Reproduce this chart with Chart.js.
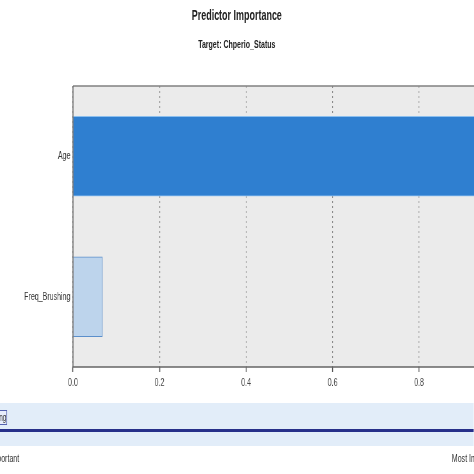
<!DOCTYPE html>
<html>
<head>
<meta charset="utf-8">
<script src="https://cdn.jsdelivr.net/npm/chart.js@4"></script>
<style>
  html, body { margin: 0; padding: 0; background: #fff; overflow: hidden; width: 474px; height: 474px; }
  /* the source picture is squeezed sideways, so the whole page is drawn wide and scaled down */
  #wrap { position: absolute; left: 0; top: 0; width: 740px; height: 474px; transform: scaleX(0.64); transform-origin: 0 0;
          font-family: "Liberation Sans", Arial, sans-serif; color: #333; }
  #title { position: absolute; left: 0; width: 740px; top: 7px; text-align: center; font-size: 14px; font-weight: bold; color: #222; }
  #subtitle { position: absolute; left: 0; width: 740px; top: 38px; text-align: center; font-size: 11px; font-weight: bold; color: #222; }
  #chartBox { position: absolute; left: 0; top: 0; width: 820px; height: 400px; }
  #band { position: absolute; left: 0; top: 403px; width: 740px; height: 43px; background: #e2edf9; }
  #track { position: absolute; left: 0; top: 429px; width: 740px; height: 3px; background: #27308a; }
  #handle { position: absolute; left: -22px; top: 410px; width: 31px; height: 13px; border: 1.5px solid #5563b0; background: #e8eefb;
            font-size: 10px; line-height: 13px; text-align: right; overflow: hidden; white-space: nowrap; }
  #least { position: absolute; left: -200px; width: 230px; top: 452px; text-align: right; font-size: 11px; }
  #most { position: absolute; left: 706px; top: 452px; font-size: 11px; white-space: nowrap; }
</style>
</head>
<body>
<div id="wrap">
  <div id="title">Predictor Importance</div>
  <div id="subtitle">Target: Chperio_Status</div>
  <div id="chartBox"><canvas id="chart"></canvas></div>
  <div id="band"></div>
  <div id="track"></div>
  <div id="handle">ng</div>
  <div id="least">Least Important</div>
  <div id="most">Most Important</div>
</div>
<script>
const predictors = ["Age", "Freq_Brushing"];
const importance = [1.0, 0.068];
const xTicks = [0, 0.2, 0.4, 0.6, 0.8, 1.0];

const barFill = ["#2f7fd0", "#bdd4ec"];
const barEdge = ["#8cbfee", "#5b8fcb"];

// grey plot background, solid frame lines on top, left and bottom
const plotFrame = {
  id: "plotFrame",
  beforeDraw(chart) {
    const { ctx, chartArea: a } = chart;
    ctx.save();
    ctx.fillStyle = "#ebebeb";
    ctx.fillRect(a.left, a.top, a.right - a.left, a.bottom - a.top);
    ctx.restore();
  },
  afterDraw(chart) {
    const { ctx, chartArea: a } = chart;
    ctx.save();
    ctx.setLineDash([]);
    ctx.lineWidth = 1.5;
    ctx.strokeStyle = "#808080";
    ctx.beginPath();
    ctx.moveTo(a.left, a.top);
    ctx.lineTo(a.right, a.top);
    ctx.stroke();
    ctx.strokeStyle = "#666";
    ctx.beginPath();
    ctx.moveTo(a.left, a.top);
    ctx.lineTo(a.left, a.bottom);
    ctx.lineTo(a.right, a.bottom);
    ctx.stroke();
    ctx.restore();
  },
};

new Chart(document.getElementById("chart"), {
  type: "bar",
  data: {
    labels: predictors,
    datasets: [{
      data: importance,
      backgroundColor: barFill,
      borderColor: barEdge,
      borderWidth: 1.2,
      barThickness: 80,
    }],
  },
  options: {
    indexAxis: "y",
    responsive: true,
    maintainAspectRatio: false,
    animation: false,
    layout: { padding: { top: 86, right: 30, bottom: 0, left: 0 } },
    plugins: { legend: { display: false }, tooltip: { enabled: false } },
    scales: {
      x: {
        min: 0, max: 1,
        z: 1, // dotted grid shows through the bars
        afterFit: (s) => { s.height = 33; },
        afterBuildTicks: (s) => { s.ticks = xTicks.map((v) => ({ value: v })); },
        ticks: {
          color: "#444", padding: 4,
          font: { family: "'Liberation Sans', Arial, sans-serif", size: 11 },
          callback: (v) => Number(v).toFixed(1),
        },
        grid: {
          color: "#8a8a8a", lineWidth: 1.2,
          tickColor: "#555", tickLength: 5, tickBorderDash: [], tickWidth: 1.5,
        },
        border: { display: false, dash: [2, 3] },
      },
      y: {
        afterFit: (s) => { s.width = 114; },
        ticks: {
          color: "#333", padding: 4,
          font: { family: "'Liberation Sans', Arial, sans-serif", size: 11 },
        },
        grid: { display: false, drawTicks: false },
        border: { display: false },
      },
    },
  },
  plugins: [plotFrame],
});
</script>
</body>
</html>
